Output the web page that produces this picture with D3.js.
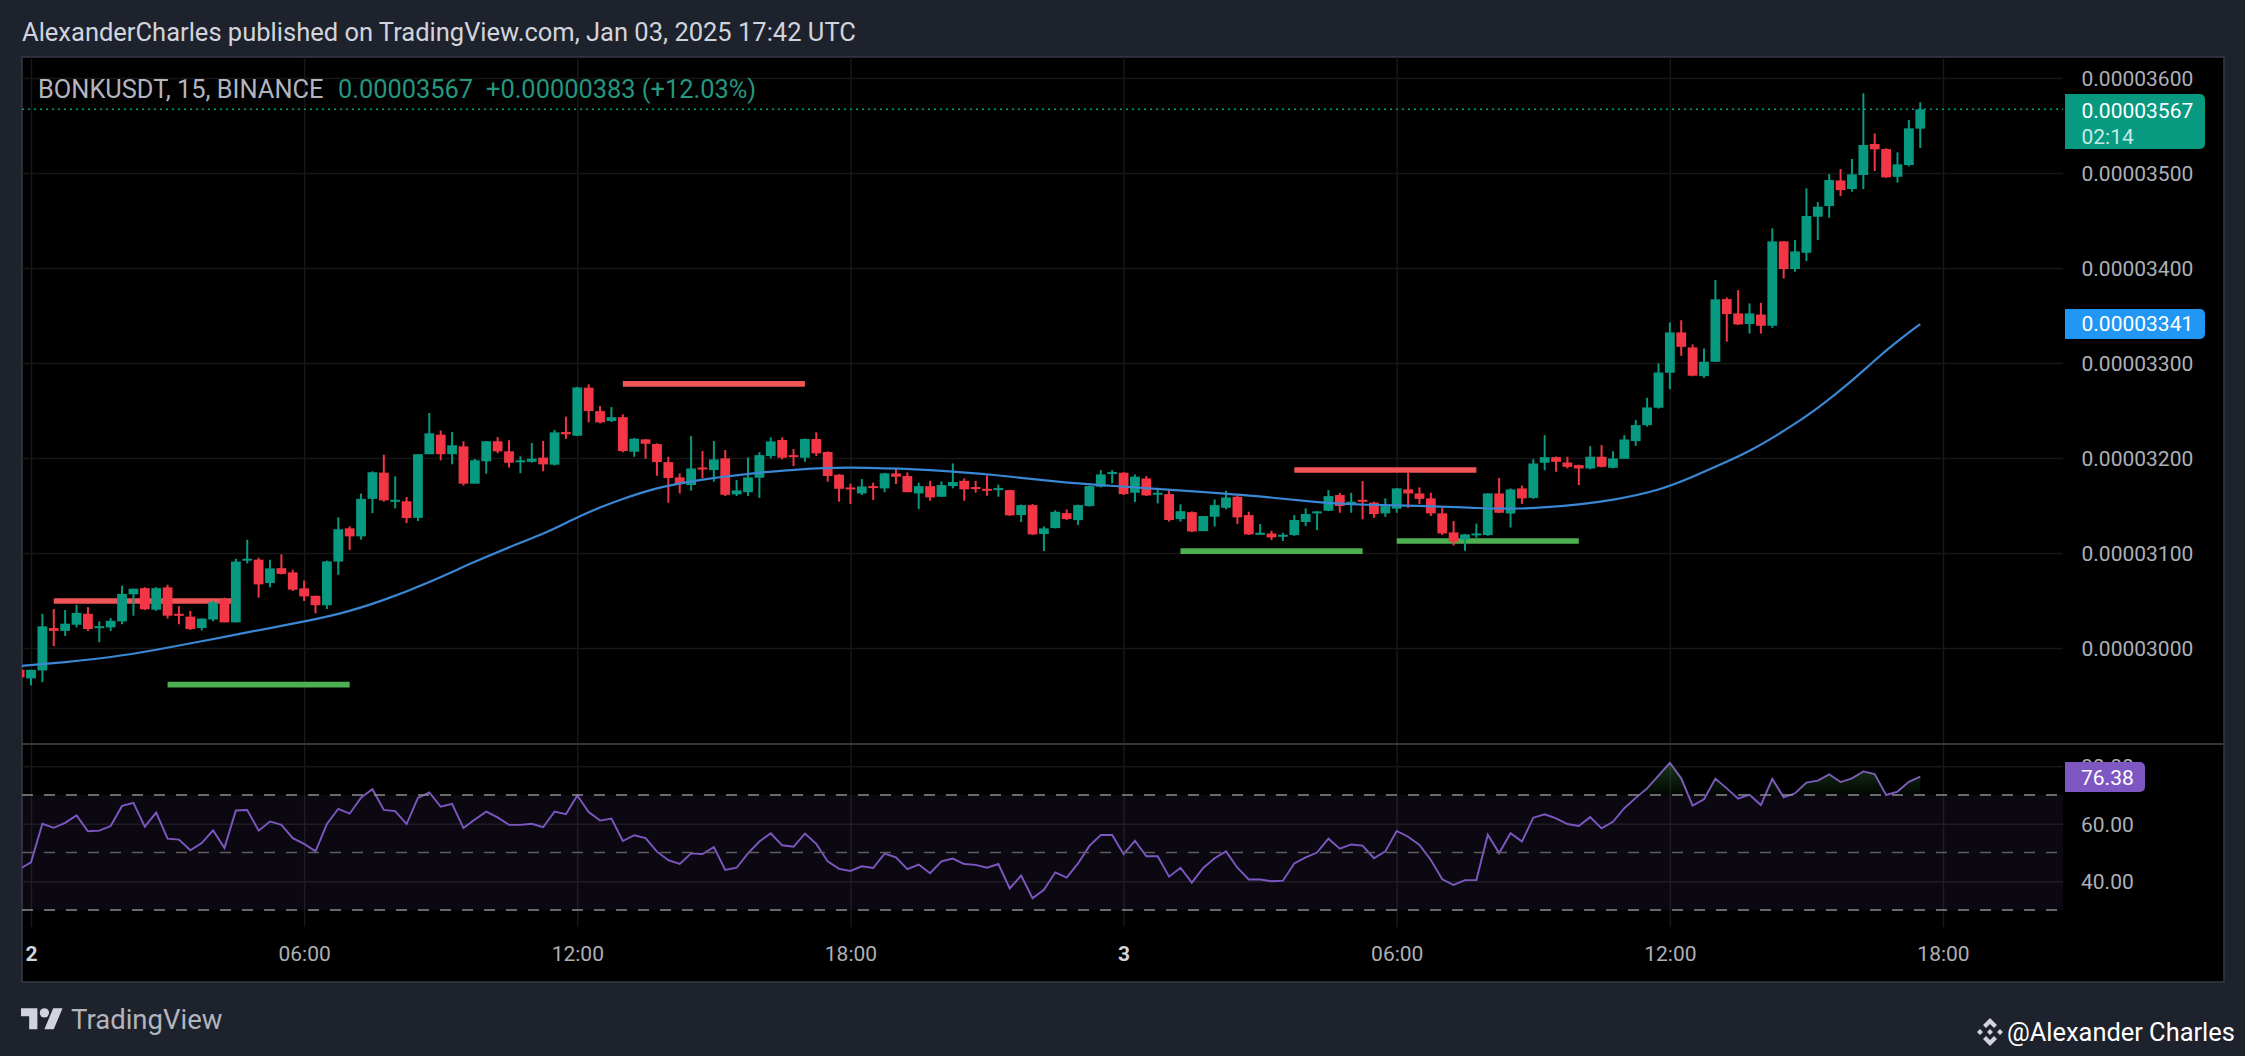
<!DOCTYPE html>
<html>
<head>
<meta charset="utf-8">
<title>BONKUSDT</title>
<script src="https://cdn.jsdelivr.net/npm/d3@7"></script>
<style>
  html, body { margin: 0; padding: 0; background: #1e222d; }
  svg { display: block; font-family: Roboto, sans-serif; }
</style>
</head>
<body>
<svg id="chart" width="2245" height="1056"></svg>
<script>
// prices are in units of 1e-8 USDT, first bar is Jan 01 23:45 UTC, 15 min bars
const opens = [
  2977,2968,2976.4,3021,3018,3024.5,3036,3022,3021.7,3028,
  3056.5,3063,3040.3,3063.8,3036,3033,3021,3030,3051,3027,
  3092,3093,3068.4,3084,3079.6,3062.8,3055,3045,3091,3126,
  3117.5,3157,3184.6,3155,3154.4,3137,3204,3224.6,3204,3212.3,
  3173,3196.5,3217.6,3207,3196.5,3196,3200.4,3193,3227.3,3223.4,
  3274,3249.4,3238.9,3243,3206.6,3219.6,3214.7,3195.7,3179.6,3171.5,
  3190,3187.3,3199.6,3161.7,3164,3179.2,3202,3218.9,3203,3200.3,
  3220,3206.3,3182.4,3169,3162.7,3170.4,3168,3183.8,3181,3162.7,
  3170.4,3159.2,3170.4,3176,3169.4,3167.6,3167,3166.2,3140,3150.4,
  3120,3126.2,3142,3134.6,3149.4,3169.8,3183.8,3184.5,3163.4,3178.5,
  3162.4,3162,3135.7,3143,3123,3138.2,3147.6,3159.2,3139.9,3119.6,
  3120.6,3118,3118.9,3132.6,3142,3144.5,3161,3152.2,3156,3153,
  3141.7,3146.6,3167,3162.7,3157.5,3141.7,3121.7,3114.3,3118.9,3118.9,
  3162.7,3141.6,3168,3158,3195,3200.9,3195.3,3192.5,3189,3201.3,
  3189.7,3199.2,3217.8,3234.6,3252.9,3289.7,3332.2,3316.4,3286.2,3301.3,
  3367.3,3352.2,3341,3351,3339.2,3428,3398.9,3416,3454,3465.2,
  3492.2,3483.1,3497.9,3530.5,3525.2,3496,3508.4,3546.7
];
const highs = [
  2979,2977,3036,3041,3040,3045.6,3043,3028,3031.5,3065.6,
  3062.4,3064,3064,3066.6,3044,3039,3031,3050,3053,3094,
  3114,3095,3093,3098.6,3082.4,3071,3055,3092,3137.5,3128,
  3162.5,3186,3203.5,3180.7,3159,3204,3247.4,3229,3227.4,3217.6,
  3199,3218,3222,3218.6,3201.8,3215.8,3218,3229.5,3243.5,3275,
  3277.5,3254.7,3253.6,3246,3221,3220,3215.4,3201.3,3183.8,3223,
  3207.3,3217.8,3208.4,3176.8,3200.6,3206,3221.7,3221.7,3209.4,3220.6,
  3227,3207,3183,3173,3177.8,3174,3184.5,3189,3184.8,3174,
  3176,3175.4,3194.3,3178.5,3176,3181.7,3171.9,3166.5,3151,3151.5,
  3128,3145,3145.9,3151,3171,3187.3,3187.3,3185,3182.7,3181,
  3168.7,3167,3151.2,3143.8,3139,3156.4,3165.5,3161,3143.4,3130.4,
  3123.4,3121.3,3139.9,3147,3144,3166.2,3163.4,3163.4,3175.7,3154,
  3157.5,3168.5,3184.5,3169,3163.4,3148,3133.6,3120,3131,3163,
  3178.9,3168,3171,3198.8,3224,3201.5,3201.3,3193,3212.5,3213.5,
  3207.2,3224,3239.9,3263.4,3299.6,3342.7,3345,3319.6,3315.3,3387.3,
  3369,3376.8,3362.7,3363.4,3441.7,3428.5,3429.4,3483.8,3469.4,3498.9,
  3504.2,3514.7,3583.9,3541.7,3526,3521.7,3555.8,3574.4
];
const lows = [
  2968,2960.6,2964,3002,3012.6,3021.7,3018,3006,3018,3025,
  3034,3040,3039,3031,3025,3019,3018.5,3028,3027,3027,
  3089,3053,3064,3077.5,3060,3049.4,3036.5,3041,3077,3103,
  3114,3142,3154,3147,3131.6,3133.7,3204,3197.5,3193.3,3171,
  3173,3183.5,3205,3190,3184,3195,3186,3192,3220,3223,
  3237.5,3236.5,3238,3206,3201.3,3199.2,3181.3,3152.9,3162.7,3165.5,
  3178.5,3175,3160,3160,3160,3158,3199.6,3198.5,3191.5,3196,
  3202,3175,3154,3151.5,3161,3155.7,3164,3172.6,3164,3146.2,
  3155,3159,3168,3155,3163.4,3160.3,3159.2,3139,3132.6,3119,
  3102,3126,3134.6,3129.4,3149,3169,3173.3,3161,3153.6,3160,
  3152.2,3133,3133,3122,3123,3128,3146,3130.4,3119,3119,
  3113.6,3112.6,3118,3128.3,3124,3144,3142.4,3142.4,3135.4,3137,
  3138,3142.4,3147.6,3151.5,3139,3119,3108,3102.4,3116,3118,
  3142,3126.9,3151.5,3157,3187.2,3185.5,3189,3171.4,3188,3190,
  3189,3199,3212.8,3233,3252,3272.5,3307.6,3286,3284.4,3301,
  3322.4,3340,3331,3331,3337,3389,3396,3407.3,3429.4,3452.9,
  3475.7,3480.3,3483.1,3502.1,3495,3489.8,3507,3526.3
];
const closes = [
  2969,2977,3022.8,3018,3025.6,3037,3020,3023,3028.7,3057,
  3062.4,3040.7,3063,3034,3034.3,3020,3031,3048,3027,3091,
  3094,3067,3083.8,3078,3061.4,3054.3,3045,3091.2,3125,3117.5,
  3157,3185,3155.4,3156,3136.8,3204,3226,3204,3213.4,3173,
  3197.6,3217.6,3207,3195,3197.6,3199.3,3193.3,3227,3225,3274.3,
  3249.4,3237.5,3243,3207.3,3220.3,3215,3195.7,3178.9,3172.6,3189,
  3188,3198.5,3161.3,3165.9,3179.6,3203,3217.5,3200.3,3201.3,3220,
  3204.9,3181,3167.6,3167,3170,3168.7,3183.8,3180.3,3164,3170.4,
  3158.5,3171.5,3174.7,3167,3167.3,3166.2,3168.3,3139.6,3150.4,3119.6,
  3125.9,3143.4,3135.7,3150.4,3170.4,3182.7,3185.2,3162,3180.3,3160.6,
  3163.4,3134.7,3144,3122.7,3138.9,3150.4,3158.5,3137.5,3119.6,3121.3,
  3116.4,3119.2,3134.7,3141,3143.8,3159.9,3149.4,3154,3154.7,3141,
  3149.4,3168,3162.7,3157,3141.7,3120.6,3111.9,3119.6,3120.6,3162.7,
  3142.4,3166.9,3157.5,3194.2,3200.9,3196,3190.7,3189,3201.3,3190.7,
  3199.5,3219.5,3234.6,3253.2,3290,3332.2,3317,3286.6,3301.3,3367,
  3351.5,3340.6,3352.2,3339.2,3428,3398.9,3417.5,3454.7,3464.5,3492.6,
  3482,3498.6,3529.5,3524.9,3495.4,3509.1,3547,3567
];
const rsiValues = [
  44.2,46.6,60,58.6,60.3,62.9,57.4,57.6,59.2,66.2,
  67.3,59,63.9,54.8,54.5,50.8,53.3,57.7,51.6,64.6,
  64.8,57.6,60.8,59.6,55,53,50.4,59.9,65.2,63.5,
  69.1,72,64.8,64.4,59.9,69,70.9,65.9,66.9,58.5,
  61.5,64.2,62.2,59.6,59.6,60,58.8,64.2,63.3,69.8,
  64.1,61.1,61.8,54,56,55,50.3,47.3,46,49.7,
  49.5,51.9,43.9,44.7,49.7,53.8,56.7,52.5,52,56.6,
  53,46.9,44.3,43.6,45.2,44.6,49.6,48.3,44.2,45.8,
  42.8,46.9,47.9,46,45.7,44.7,46,37.5,42,34.1,
  37,43.1,41.3,46.2,52.3,56.1,56.1,49.4,54.1,48.7,
  48.7,41.6,44.7,39.5,44.6,48,50.4,44.7,40.6,40.6,
  40,40.2,46.2,48.3,50,54.8,51.3,52.8,52.4,48,
  50.4,57.5,55.5,52.6,47.4,40.7,38.7,40.4,40.4,56.2,
  49.8,56.7,53.8,62.1,63.3,61.9,59.9,59.2,62.3,58.4,
  60.7,65.4,69,72.3,76.7,81.2,75.8,66.3,68.5,75.7,
  72.3,68.7,70.1,66.5,75.6,69.2,70.6,74.3,75,77.2,
  74.5,75.8,78.2,77.3,70,71.2,74.6,76.38
];
const emaBars = [-1,3,7,11,15,19,23,27,31,35,39,43,45,47,49,52,55,59,65,70,73,79,85,90,95,101,108,113,117,123,127,131,133,136,139,143,146,149,151,154,157,160,162,164,166];
const emaVals = [2981,2985,2990,2998,3007,3016.5,3025.5,3035,3050,3069,3091,3111,3120,3131.5,3143.5,3157,3169,3178,3186,3190,3190,3188,3182,3175,3170.5,3166,3160,3153,3150.5,3149.7,3147,3146.5,3148,3151,3155.6,3165.5,3180,3196,3207,3228,3252,3281,3303,3323,3341];

// drawn levels: bar from, bar to, price
const redFrom = [2, 52, 111];
const redTo = [18, 68, 127];
const redPrice = [3049.5, 3278, 3187.4];
const greenFrom = [12, 101, 120];
const greenTo = [28, 117, 136];
const greenPrice = [2961.4, 3102, 3112.6];

const priceTicks = [3000, 3100, 3200, 3300, 3400, 3500, 3600];
const rsiTicks = [40, 60, 80];
const rsiBands = [70, 50, 30];
const timeTicks = [
  new Date(Date.UTC(2025, 0, 2, 0)), new Date(Date.UTC(2025, 0, 2, 6)),
  new Date(Date.UTC(2025, 0, 2, 12)), new Date(Date.UTC(2025, 0, 2, 18)),
  new Date(Date.UTC(2025, 0, 3, 0)), new Date(Date.UTC(2025, 0, 3, 6)),
  new Date(Date.UTC(2025, 0, 3, 12)), new Date(Date.UTC(2025, 0, 3, 18))
];

const lastPrice = 3567;
const lastEma = 3341;
const lastRsi = 76.38;

const GREEN = '#089981';
const RED = '#f23645';
const PURPLE = '#7e57c2';
const GRID = '#171717';
const LABEL = '#adb0b6';

const svg = d3.select('#chart');
const leftEdge = 22, plotRight = 2063, panelRight = 2224, topEdge = 57, panelBottom = 982, gridBottom = 927;

const firstBar = new Date(Date.UTC(2025, 0, 1, 23, 45));
const barTime = k => d3.utcMinute.offset(firstBar, 15 * k);
const x = d3.scaleUtc()
  .domain([timeTicks[0], timeTicks[7]])
  .range([31, 1943]);
const xBar = bar => x(barTime(bar + 1));
const y = d3.scaleLinear().domain([3000, 3600]).range([648, 78]);
const yRsi = d3.scaleLinear().domain([30, 70]).range([910, 795]);

// panel
svg.append('rect')
  .attr('x', leftEdge).attr('y', topEdge)
  .attr('width', panelRight - leftEdge).attr('height', panelBottom - topEdge)
  .attr('fill', '#000').attr('stroke', '#363a45').attr('stroke-width', 1.5);

const defs = svg.append('defs');
defs.append('clipPath').attr('id', 'plot').append('rect')
  .attr('x', leftEdge).attr('y', topEdge).attr('width', plotRight - leftEdge).attr('height', gridBottom - topEdge);
defs.append('clipPath').attr('id', 'over').append('rect')
  .attr('x', leftEdge).attr('y', topEdge).attr('width', plotRight - leftEdge).attr('height', yRsi(70) - topEdge);
const grad = defs.append('linearGradient').attr('id', 'overFill')
  .attr('gradientUnits', 'userSpaceOnUse')
  .attr('x1', 0).attr('x2', 0).attr('y1', yRsi(81)).attr('y2', yRsi(70));
grad.append('stop').attr('offset', 0).attr('stop-color', '#4caf50').attr('stop-opacity', 0.3);
grad.append('stop').attr('offset', 1).attr('stop-color', '#4caf50').attr('stop-opacity', 0.03);

// grid, through the axes
const styleGrid = g => {
  g.select('.domain').remove();
  g.selectAll('text').remove();
  g.selectAll('line').attr('stroke', GRID).attr('stroke-width', 1.5);
};
svg.append('g').attr('transform', `translate(${leftEdge},0)`)
  .call(d3.axisRight(y).tickValues(priceTicks).tickSize(plotRight - leftEdge))
  .call(styleGrid);
svg.append('g').attr('transform', `translate(${leftEdge},0)`)
  .call(d3.axisRight(yRsi).tickValues(rsiTicks).tickSize(plotRight - leftEdge))
  .call(styleGrid);
svg.append('g').attr('transform', `translate(0,${gridBottom})`)
  .call(d3.axisBottom(x).tickValues(timeTicks).tickSize(topEdge - gridBottom))
  .call(styleGrid);

// pane separator
svg.append('line')
  .attr('x1', leftEdge).attr('x2', panelRight).attr('y1', 744).attr('y2', 744)
  .attr('stroke', '#363636').attr('stroke-width', 2);

// drawn levels
const plot = svg.append('g').attr('clip-path', 'url(#plot)');
const drawLevels = (from, price, to, color) => {
  plot.append('g').selectAll('line').data(from).join('line')
    .attr('x1', d => xBar(d))
    .attr('x2', (d, i) => xBar(to[i]))
    .attr('y1', (d, i) => y(price[i]))
    .attr('y2', (d, i) => y(price[i]))
    .attr('stroke', color).attr('stroke-width', 5.6);
};
drawLevels(redFrom, redPrice, redTo, '#f15558');
drawLevels(greenFrom, greenPrice, greenTo, '#4caf50');

// last price line
svg.append('line')
  .attr('x1', leftEdge).attr('x2', plotRight).attr('y1', y(lastPrice)).attr('y2', y(lastPrice))
  .attr('stroke', GREEN).attr('stroke-width', 1.5).attr('stroke-dasharray', '2 4');

// candles
const bars = d3.range(opens.length);
const barColor = k => closes[k] >= opens[k] ? GREEN : RED;
plot.append('g').selectAll('line').data(bars).join('line')
  .attr('x1', k => x(barTime(k))).attr('x2', k => x(barTime(k)))
  .attr('y1', k => y(highs[k])).attr('y2', k => y(lows[k]))
  .attr('stroke', barColor).attr('stroke-width', 2);
plot.append('g').selectAll('rect').data(bars).join('rect')
  .attr('x', k => x(barTime(k)) - 4.9)
  .attr('width', 9.8)
  .attr('y', k => y(Math.max(opens[k], closes[k])))
  .attr('height', k => Math.max(2, Math.abs(y(opens[k]) - y(closes[k]))))
  .attr('fill', barColor);

// moving average
const emaLine = d3.line()
  .x(d => xBar(d))
  .y((d, i) => y(emaVals[i]))
  .curve(d3.curveBasis);
plot.append('path')
  .attr('d', emaLine(emaBars))
  .attr('fill', 'none').attr('stroke', '#3a87d4').attr('stroke-width', 2.2);

// RSI band
svg.append('rect')
  .attr('x', leftEdge).attr('width', plotRight - leftEdge)
  .attr('y', yRsi(70)).attr('height', yRsi(30) - yRsi(70))
  .attr('fill', PURPLE).attr('fill-opacity', 0.09);
svg.append('g').selectAll('line').data(rsiBands).join('line')
  .attr('x1', leftEdge).attr('x2', plotRight - 6)
  .attr('y1', d => yRsi(d)).attr('y2', d => yRsi(d))
  .attr('stroke', d => d === 50 ? '#5e5e62' : '#8a8a90')
  .attr('stroke-width', 1.6).attr('stroke-dasharray', '11 11');

// RSI overbought fill and line
const rsiArea = d3.area()
  .x((d, k) => x(barTime(k)))
  .y0(yRsi(70))
  .y1(d => yRsi(d));
svg.append('g').attr('clip-path', 'url(#over)').append('path')
  .attr('d', rsiArea(rsiValues))
  .attr('fill', 'url(#overFill)');
const rsiLine = d3.line()
  .x((d, k) => x(barTime(k)))
  .y(d => yRsi(d));
plot.append('path')
  .attr('d', rsiLine(rsiValues))
  .attr('fill', 'none').attr('stroke', PURPLE).attr('stroke-width', 1.9);

// axes
const styleAxis = g => {
  g.select('.domain').remove();
  g.selectAll('line').remove();
  g.selectAll('text').attr('font-size', 21).attr('fill', LABEL).attr('font-family', 'Roboto, sans-serif');
};
svg.append('g').attr('transform', 'translate(2081.5,1)')
  .call(d3.axisRight(y).tickValues(priceTicks).tickSize(0).tickPadding(0)
    .tickFormat(d => (d / 1e8).toFixed(8)))
  .call(styleAxis);
svg.append('g').attr('transform', 'translate(2081,1)')
  .call(d3.axisRight(yRsi).tickValues(rsiTicks).tickSize(0).tickPadding(0)
    .tickFormat(d => d.toFixed(2)))
  .call(styleAxis);
svg.append('g').attr('transform', 'translate(0,946)')
  .call(d3.axisBottom(x).tickValues(timeTicks).tickSize(0).tickPadding(0)
    .tickFormat(d => d.getUTCHours() === 0 ? d3.utcFormat('%-d')(d) : d3.utcFormat('%H:%M')(d)))
  .call(styleAxis)
  .selectAll('text')
  .attr('font-weight', d => d.getUTCHours() === 0 ? 700 : 400)
  .attr('fill', d => d.getUTCHours() === 0 ? '#d1d4dc' : LABEL);

// value badges
const badge = (yTop, h, w, color) => {
  svg.append('path')
    .attr('d', `M2065,${yTop}H${2065 + w - 5}a5,5 0 0 1 5,5V${yTop + h - 5}a5,5 0 0 1 -5,5H2065Z`)
    .attr('fill', color);
};
const label = (xPos, yPos, str, size, color, weight) => svg.append('text')
  .attr('x', xPos).attr('y', yPos).attr('dominant-baseline', 'central')
  .attr('font-size', size).attr('fill', color).attr('font-weight', weight || 400)
  .text(str);

badge(94, 55, 140, GREEN);
label(2081.5, 111, (lastPrice / 1e8).toFixed(8), 21, '#ffffff');
label(2081.5, 137, '02:14', 21, '#c5ece4');
badge(y(lastEma) - 15, 30, 140, '#2196f3');
label(2081.5, y(lastEma), (lastEma / 1e8).toFixed(8), 21, '#ffffff');
badge(762, 30, 80, PURPLE);
label(2081, 778, lastRsi.toFixed(2), 21, '#ffffff');

// header, legend
label(22, 32, 'AlexanderCharles published on TradingView.com, Jan 03, 2025 17:42 UTC', 25.5, '#d1d4dc');
label(38, 89, 'BONKUSDT, 15, BINANCE', 25.4, '#b2b5be');
label(338, 89, (lastPrice / 1e8).toFixed(8), 25.4, '#26967f');
label(486, 89, '+0.00000383 (+12.03%)', 25.4, '#26967f');

// footer
const logo = svg.append('g').attr('transform', 'translate(21,1003.5) scale(1.17)').attr('fill', '#d1d4dc');
logo.append('path').attr('d', 'M14 22H7V11H0V4h14v18zM28 22h-8l7.5-18h8L28 22z');
logo.append('circle').attr('cx', 20).attr('cy', 8).attr('r', 4);
label(71, 1019, 'TradingView', 27.5, '#b2b5be');

const mark = svg.append('g').attr('transform', 'translate(1990,1032)').attr('fill', '#d1d4dc');
mark.append('path').attr('d', 'M0-14L7-7L4-4L0-8L-4-4L-7-7ZM0 14L7 7L4 4L0 8L-4 4L-7 7ZM-13 0L-10-3L-7 0L-10 3ZM13 0L10-3L7 0L10 3ZM0-3L3 0L0 3L-3 0Z');
label(2007, 1032, '@Alexander Charles', 25.4, '#ffffff');
</script>
</body>
</html>
